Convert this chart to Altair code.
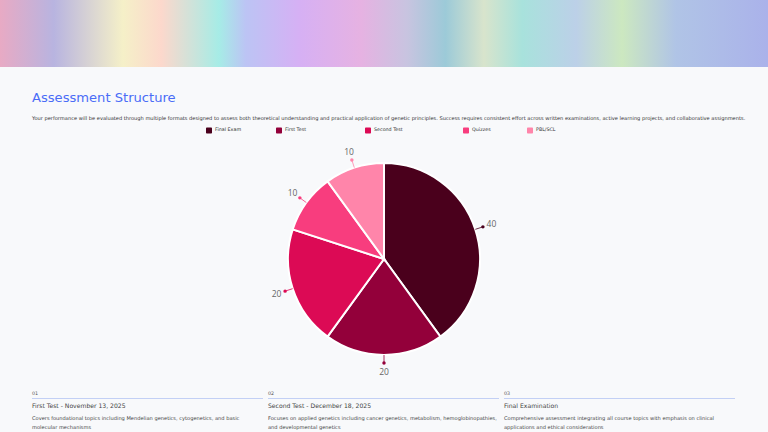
import altair as alt
import pandas as pd

# ---------------- data ----------------
categories = ["Final Exam", "First Test", "Second Test", "Quizzes", "PBL/SCL"]
weights = [40, 20, 20, 10, 10]
palette = ["#4a001c", "#93003a", "#dc0a55", "#f83d7e", "#ff85aa"]

title_text = "Assessment Structure"
subtitle_text = ("Your performance will be evaluated through multiple formats designed to assess both "
                 "theoretical understanding and practical application of genetic principles. Success "
                 "requires consistent effort across written examinations, active learning projects, "
                 "and collaborative assignments.")

card_numbers = ["01", "02", "03"]
card_titles = ["First Test - November 13, 2025", "Second Test - December 18, 2025", "Final Examination"]
card_line1 = ["Covers foundational topics including Mendelian genetics, cytogenetics, and basic",
              "Focuses on applied genetics including cancer genetics, metabolism, hemoglobinopathies,",
              "Comprehensive assessment integrating all course topics with emphasis on clinical"]
card_line2 = ["molecular mechanisms",
              "and developmental genetics",
              "applications and ethical considerations"]

# ---------------- layout constants ----------------
W, H = 768, 432
CX, CY, R = 384, 259, 96
LEGEND_X = [206, 276, 365, 463, 527]
LEGEND_Y = 130.5
CARD_X = [32, 268, 504]
CARD_W = 231

df = pd.DataFrame({"category": categories, "weight": weights, "order": list(range(len(categories)))})
one = pd.DataFrame({"k": [0]})

color = alt.Color("category:N", scale=alt.Scale(domain=categories, range=palette), legend=None)
theta = alt.Theta("weight:Q", stack=True)
order = alt.Order("order:Q")

layers = []

# header gradient band
header = alt.Chart(one).mark_rect(
    color=alt.Gradient(
        gradient="linear", x1=0, x2=1, y1=0, y2=0,
        stops=[
            alt.GradientStop(color="#e8aac4", offset=0.0),
            alt.GradientStop(color="#b8b4e0", offset=0.07),
            alt.GradientStop(color="#f5f0c8", offset=0.16),
            alt.GradientStop(color="#fcd8cc", offset=0.21),
            alt.GradientStop(color="#a6ece6", offset=0.285),
            alt.GradientStop(color="#bcc4f4", offset=0.32),
            alt.GradientStop(color="#d6b0f4", offset=0.39),
            alt.GradientStop(color="#e6b2e2", offset=0.47),
            alt.GradientStop(color="#c8c4e0", offset=0.53),
            alt.GradientStop(color="#9ccad8", offset=0.58),
            alt.GradientStop(color="#d8e4cc", offset=0.63),
            alt.GradientStop(color="#a8e2dc", offset=0.68),
            alt.GradientStop(color="#bcd0e8", offset=0.75),
            alt.GradientStop(color="#cce8c0", offset=0.81),
            alt.GradientStop(color="#b0c4e6", offset=0.88),
            alt.GradientStop(color="#aab2ea", offset=1.0),
        ],
    )
).encode(x=alt.value(0), x2=alt.value(W), y=alt.value(0), y2=alt.value(67))
layers.append(header)


def txt(s, x, y, size, col, weight="normal", font="DejaVu Sans", align="left", baseline="middle"):
    return alt.Chart(pd.DataFrame({"t": [s]})).mark_text(
        align=align, baseline=baseline, fontSize=size, color=col, fontWeight=weight, font=font
    ).encode(text="t:N", x=alt.value(x), y=alt.value(y))


layers.append(txt(title_text, 32, 98, 13.1, "#4a6cf7"))
layers.append(txt(subtitle_text, 32, 118, 5.1, "#333333"))

# legend
for i, cat in enumerate(categories):
    sw = alt.Chart(one).mark_rect(color=palette[i], cornerRadius=1).encode(
        x=alt.value(LEGEND_X[i]), x2=alt.value(LEGEND_X[i] + 6),
        y=alt.value(LEGEND_Y - 3), y2=alt.value(LEGEND_Y + 3))
    layers.append(sw)
    layers.append(txt(cat, LEGEND_X[i] + 9, LEGEND_Y - 0.5, 4.8, "#333333"))

# dashed outline circle
outline = alt.Chart(one).mark_point(
    shape="circle", filled=False, size=3.14159 * 98.5 ** 2, stroke="#b0b0b0",
    strokeWidth=0.7, strokeDash=[2, 1.5]
).encode(x=alt.value(CX), y=alt.value(CY))
layers.append(outline)

# pie
arc = alt.Chart(df).mark_arc(outerRadius=R, stroke="white", strokeWidth=2).encode(
    theta=theta, color=color, order=order, x=alt.value(CX), y=alt.value(CY))
layers.append(arc)

# leader lines and dots (computed from the data)
geo = (alt.Chart(df)
       .transform_window(cum="sum(weight)", sort=[alt.SortField("order")])
       .transform_joinaggregate(total="sum(weight)")
       .transform_calculate(
           a="2*PI*(datum.cum - datum.weight/2)/datum.total",
           xa=f"{CX}+{R}*sin(datum.a)", ya=f"{CY}-{R}*cos(datum.a)",
           xb=f"{CX}+104*sin(datum.a)", yb=f"{CY}-104*cos(datum.a)"))
leader = geo.mark_rule(strokeWidth=0.8).encode(
    x=alt.X("xa:Q", scale=None, axis=None), y=alt.Y("ya:Q", scale=None, axis=None),
    x2="xb:Q", y2="yb:Q", color=color)
dots = geo.mark_circle(size=12, opacity=1).encode(
    x=alt.X("xb:Q", scale=None, axis=None), y=alt.Y("yb:Q", scale=None, axis=None), color=color)
layers.append(leader)
layers.append(dots)

labels = alt.Chart(df).mark_text(radius=113, fontSize=8.5, color="#666666", font="Open Sans").encode(
    theta=theta, order=order, text="weight:Q", x=alt.value(CX), y=alt.value(CY))
layers.append(labels)

# bottom cards
for i in range(3):
    x0 = CARD_X[i]
    layers.append(txt(card_numbers[i], x0, 394, 4.8, "#555555"))
    layers.append(alt.Chart(one).mark_rule(color="#c3d0f5", strokeWidth=1).encode(
        x=alt.value(x0), x2=alt.value(x0 + CARD_W), y=alt.value(398.5)))
    layers.append(txt(card_titles[i], x0, 406, 6.1, "#444444"))
    layers.append(txt(card_line1[i], x0, 418, 5.1, "#444444"))
    layers.append(txt(card_line2[i], x0, 427, 5.1, "#444444"))

chart = alt.layer(*layers).properties(
    width=W, height=H, padding=0, autosize=alt.AutoSizeParams(type="none"),
    background="#f8f9fb"
).configure_view(stroke=None)

chart.save("out.html", embed_options={"renderer": "svg", "actions": False})
